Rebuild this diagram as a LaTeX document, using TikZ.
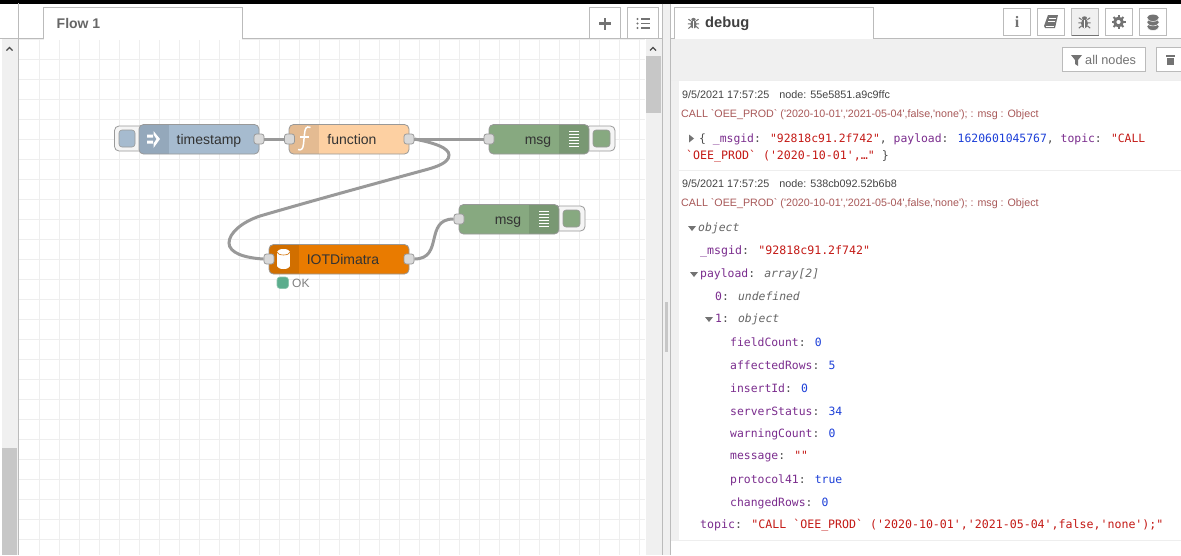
\documentclass[tikz,border=0pt]{standalone}
\usepackage{fontspec}
\setmainfont{Liberation Sans}
\newfontfamily\callfont{Liberation Sans}
\newfontfamily\serifbold{Liberation Serif}
\newfontfamily\codefont{DejaVu Sans Mono}
\usetikzlibrary{calc}
\definecolor{gridc}{HTML}{EEEEEE}
\definecolor{linec}{HTML}{BBBBBB}
\definecolor{panelc}{HTML}{F0F0F0}
\definecolor{wirec}{HTML}{999999}
\definecolor{portc}{HTML}{D9D9D9}
\definecolor{nodeedge}{HTML}{999999}
\definecolor{tsc}{HTML}{A6BBCF}
\definecolor{tsd}{HTML}{94A8BB}
\definecolor{fnc}{HTML}{FDD0A2}
\definecolor{fnd}{HTML}{E4BB92}
\definecolor{msgc}{HTML}{87A980}
\definecolor{msgd}{HTML}{799873}
\definecolor{dbc}{HTML}{E97B00}
\definecolor{dbd}{HTML}{D16F00}
\definecolor{okc}{HTML}{5BAD8D}
\definecolor{keyc}{HTML}{7B2D8E}
\definecolor{strc}{HTML}{C41A16}
\definecolor{numc}{HTML}{1C3FD8}
\definecolor{metac}{HTML}{444444}
\definecolor{namec}{HTML}{A85858}
\definecolor{ital}{HTML}{666666}
\tikzset{
 x=1pt,y=-1pt,
 flowbox/.style={draw=nodeedge,line width=.8pt,rounded corners=4.5pt},
 portbox/.style={draw=nodeedge,fill=portc,line width=.8pt,rounded corners=2.5pt,minimum width=10pt,minimum height=10pt,inner sep=0pt},
 wire/.style={draw=wirec,line width=3pt},
 btn/.style={draw=linec,fill=white,line width=.8pt},
 lbl/.style={font=\fontsize{14}{16}\selectfont,text=black!80,inner sep=0pt,anchor=base},
 meta/.style={font=\fontsize{10.8}{12}\selectfont,text=metac,anchor=west,inner sep=0pt},
 call/.style={font=\callfont\fontsize{10.7}{12}\selectfont,text=namec,anchor=west,inner sep=0pt},
 code/.style={font=\codefont\fontsize{11.4}{14}\selectfont,anchor=west,inner sep=0pt,text=keyc},
 codewide/.style={font=\codefont\fontsize{11.6}{14}\selectfont,anchor=west,inner sep=0pt,text=keyc},
 tri/.style={fill=black!55,draw=none},
 bugicon/.pic={
   \fill[black!55] (0,1.5) ellipse (3.6 and 5.2);
   \fill[black!55] (0,-4.2) ellipse (2.6 and 1.8);
   \draw[black!55,line width=1pt] (-3,-2.5) -- (-6,-4.5) (3,-2.5) -- (6,-4.5) (-3,1) -- (-6.5,1) (3,1) -- (6.5,1) (-3,4) -- (-6,6.5) (3,4) -- (6,6.5);
   \draw[white,line width=.5pt] (0,-2.4) -- (0,6.5);
 },
}
\newcommand{\kyy}[1]{\textcolor{keyc}{#1}}
\newcommand{\strr}[1]{\textcolor{strc}{#1}}
\newcommand{\numm}[1]{\textcolor{numc}{#1}}
\newcommand{\itl}[1]{\textcolor{ital}{\textit{#1}}}
\newcommand{\plainn}[1]{\textcolor{black!70}{#1}}
\begin{document}
\begin{tikzpicture}
\useasboundingbox (0,0) rectangle (1181,555);
\fill[white] (0,0) rectangle (1181,555);
% grid
\begin{scope}
\clip (19,39) rectangle (645,555);
\foreach \g in {39.5,59.5,...,559.5} \draw[gridc,line width=1pt] (19,\g) -- (645,\g);
\foreach \g in {39.5,59.5,...,659.5} \draw[gridc,line width=1pt] (\g,39) -- (\g,555);
\end{scope}
% top bar
\fill[black] (0,0) rectangle (1181,3.5);
% left scrollbar
\fill[panelc] (2,39) rectangle (18,555);
\fill[black!22] (2,448) rectangle (17,555);
\draw[black!70,line width=1.2pt] (6.5,50.5) -- (9.5,47.5) -- (12.5,50.5);
\draw[linec,line width=.8pt] (18.5,3) -- (18.5,555);
% tab row
\draw[linec,line width=.8pt] (0,38.5) -- (43.5,38.5) -- (43.5,7.5) -- (242.5,7.5) -- (242.5,38.5) -- (662,38.5);
\fill[white] (44,34) rectangle (242,39.5);
\node[inner sep=0pt,anchor=west,font=\bfseries\fontsize{14}{16}\selectfont,text=black!60] (flowtab) at (56.5,23) {Flow 1};
\draw[btn] (589.5,7.5) rectangle (620.5,38.5);
\draw[btn] (627.5,7.5) rectangle (658.5,38.5);
\draw[black!55,line width=2.6pt] (599,23.5) -- (611,23.5) (605,18) -- (605,29.5);
\draw[black!55,line width=1.9pt] (641,19) -- (650,19) (641,23.5) -- (650,23.5) (641,28) -- (650,28);
\fill[black!55] (637.5,19) circle (1.2) (637.5,23.5) circle (1.2) (637.5,28) circle (1.2);
% right scrollbar of workspace
\fill[panelc] (646,39) rectangle (670,555);
\fill[black!22] (646,56) rectangle (661,113);
\draw[black!70,line width=1.2pt] (650,50.5) -- (653,47.5) -- (656,50.5);
% splitter
\fill[panelc] (662,3.5) rectangle (670,555);
\draw[linec,line width=.8pt] (662.5,3.5) -- (662.5,555);
\draw[linec,line width=.8pt] (670.5,3.5) -- (670.5,555);
\fill[black!22] (665,302) rectangle (668,352);
% debug tabs
\fill[panelc] (671,39) rectangle (1181,81);
\fill[panelc] (671,81) rectangle (679,540);
\draw[linec,line width=.8pt] (671,38.5) -- (674.5,38.5) -- (674.5,7.5) -- (873.5,7.5) -- (873.5,38.5) -- (1181,38.5);
\draw[gridc,line width=.8pt] (671,80.5) -- (1181,80.5);
\draw[gridc,line width=.8pt] (679,170.5) -- (1181,170.5);
\draw[gridc,line width=.8pt] (671,540.5) -- (1181,540.5);
\pic[scale=.85] at (693.5,23) {bugicon};
\node[inner sep=0pt,anchor=west,font=\bfseries\fontsize{14.7}{16}\selectfont,text=black!75] (debugtab) at (705,24) {debug};
\draw[btn] (1003.5,8.5) rectangle (1030.5,35.5);
\draw[btn] (1037.5,8.5) rectangle (1064.5,35.5);
\draw[btn,fill=panelc] (1071.5,8.5) rectangle (1098.5,35.5);
\draw[black!55,line width=.9pt] (1071.5,35.5) -- (1098.5,35.5);
\draw[btn] (1105.5,8.5) rectangle (1132.5,35.5);
\draw[btn] (1139.5,8.5) rectangle (1166.5,35.5);
\node[inner sep=0pt,font=\serifbold\bfseries\fontsize{16}{18}\selectfont,text=black!55] (iicon) at (1017,21.5) {i};
\fill[black!55] (1048,15) -- (1058,15) -- (1055,28) -- (1045,28) -- (1044,26) -- cycle;
\draw[white,line width=.5pt] (1049,18) -- (1055.5,18) (1048.2,21) -- (1054.7,21) (1045.5,26) -- (1054,26);
\pic[scale=.95] at (1084.5,22) {bugicon};
\fill[black!55,even odd rule] (1118.5,22) circle (5.4) (1118.5,22) circle (2.2);
\foreach \a in {0,45,...,315} \draw[black!55,line width=2pt] ($(1118.5,22)+(\a:4.5)$) -- ($(1118.5,22)+(\a:7)$);
\foreach \yy in {27,22.5,18} {\fill[black!55] (1153,\yy) ellipse (6 and 3.4); \draw[white,line width=.5pt] (1147,\yy) arc[start angle=180,end angle=360,x radius=6,y radius=-3.4];}
\draw[btn] (1062.5,47.5) rectangle (1145.5,71.5);
\draw[btn] (1156.5,47.5) rectangle (1190,71.5);
\fill[black!55] (1071,55) -- (1082,55) -- (1078,60) -- (1078,66) -- (1075,64) -- (1075,60) -- cycle;
\node[inner sep=0pt,anchor=west,font=\fontsize{12.7}{14}\selectfont,text=black!55] (allnodes) at (1085,59.5) {all nodes};
\fill[black!55] (1166,55) rectangle (1175,56.5);
\fill[black!55] (1167,57.5) rectangle (1174,65);
% debug text
\node[meta] (m1) at (682,94.5) {9/5/2021 17:57:25\hspace{10pt}node: 55e5851.a9c9ffc};
\node[call] (c1) at (681,115) {CALL `OEE\_PROD` ('2020-10-01','2021-05-04',false,'none'); : msg : Object};
\fill[tri] (689,134.5) -- (694,138.5) -- (689,142.5) -- cycle;
\node[code] (t1) at (699,139) {\plainn{\{} \kyy{\_msgid}\plainn{:} \strr{"92818c91.2f742"}\plainn{,} \kyy{payload}\plainn{:} \numm{1620601045767}\plainn{,} \kyy{topic}\plainn{:} \strr{"CALL}};
\node[codewide] (t2) at (686,156) {\strr{`OEE\_PROD` ('2020-10-01',…"} \plainn{\}}};
\node[meta] (m2) at (682,183.5) {9/5/2021 17:57:25\hspace{10pt}node: 538cb092.52b6b8};
\node[call] (c2) at (681,204) {CALL `OEE\_PROD` ('2020-10-01','2021-05-04',false,'none'); : msg : Object};
\fill[tri] (688,226) -- (696,226) -- (692,231) -- cycle;
\node[code] (t3) at (698,228.5) {\itl{object}};
\node[codewide] (t4) at (700,251) {\kyy{\_msgid}\plainn{:} \strr{"92818c91.2f742"}};
\fill[tri] (690,272) -- (698,272) -- (694,277) -- cycle;
\node[code] (t5) at (700,274) {\kyy{payload}\plainn{:} \itl{array[2]}};
\node[code] (t6) at (715,296) {\kyy{0}\plainn{:} \itl{undefined}};
\fill[tri] (705,317) -- (713,317) -- (709,322) -- cycle;
\node[code] (t7) at (715,319) {\kyy{1}\plainn{:} \itl{object}};
\node[code] (k1) at (730,342) {\kyy{fieldCount}\plainn{:} \numm{0}};
\node[code] (k2) at (730,365) {\kyy{affectedRows}\plainn{:} \numm{5}};
\node[code] (k3) at (730,388) {\kyy{insertId}\plainn{:} \numm{0}};
\node[code] (k4) at (730,411) {\kyy{serverStatus}\plainn{:} \numm{34}};
\node[code] (k5) at (730,434) {\kyy{warningCount}\plainn{:} \numm{0}};
\node[code] (k6) at (730,457) {\kyy{message}\plainn{:} \strr{""}};
\node[code] (k7) at (730,480) {\kyy{protocol41}\plainn{:} \numm{true}};
\node[code] (k8) at (730,503) {\kyy{changedRows}\plainn{:} \numm{0}};
\node[codewide] (k9) at (700,525.5) {\kyy{topic}\plainn{:} \strr{"CALL `OEE\_PROD` ('2020-10-01','2021-05-04',false,'none');"}};
% button tabs of nodes
\draw[flowbox,fill=gridc!60] (114.5,126) rectangle (146,151);
\fill[tsc,draw=nodeedge,line width=.6pt,rounded corners=3pt] (119,130) rectangle (135,147);
\draw[flowbox,fill=gridc!60] (585,126) rectangle (615,151);
\fill[msgc,draw=nodeedge,line width=.6pt,rounded corners=3pt] (593,130) rectangle (610,147);
\draw[flowbox,fill=gridc!60] (555,206) rectangle (585,231);
\fill[msgc,draw=nodeedge,line width=.6pt,rounded corners=3pt] (563,210) rectangle (580,227);
% timestamp
\begin{scope}
\fill[tsc,rounded corners=4.5pt] (139,124.5) rectangle (259,154);
\clip[rounded corners=4.5pt] (139,124.5) rectangle (259,154);
\fill[tsd] (139,124.5) rectangle (169,154);
\end{scope}
\draw[flowbox] (139,124.5) rectangle (259,154);
\fill[white] (147,134.5) rectangle (153,137.5) (147,140.5) rectangle (153,143.5);
\fill[white] (153.5,131) -- (160,139) -- (153.5,148) -- (153.5,143.5) -- (156.5,139) -- (153.5,134.5) -- cycle;
\node[lbl] (tsl) at (209,144) {timestamp};
% function
\begin{scope}
\fill[fnc,rounded corners=4.5pt] (289,124.5) rectangle (409,154);
\clip[rounded corners=4.5pt] (289,124.5) rectangle (409,154);
\fill[fnd] (289,124.5) rectangle (319,154);
\end{scope}
\draw[flowbox] (289,124.5) rectangle (409,154);
\draw[white,line width=1.5pt] (310.5,127.5) .. controls (306,125.5) and (305,129) .. (304.5,134) -- (303.5,144) .. controls (303,149.5) and (301,150.5) .. (298,149.5);
\draw[white,line width=1.2pt] (300,137) -- (308.5,137);
\node[lbl] (fnl) at (352,144) {function};
% msg 1
\begin{scope}
\fill[msgc,rounded corners=4.5pt] (489,124.5) rectangle (589,154);
\clip[rounded corners=4.5pt] (489,124.5) rectangle (589,154);
\fill[msgd] (559,124.5) rectangle (589,154);
\end{scope}
\draw[flowbox] (489,124.5) rectangle (589,154);
\foreach \yy in {131,134,137,140,143,146} \fill[white] (569,\yy) rectangle (579,\yy+1.1);
\node[lbl] (m1l) at (538,144) {msg};
% msg 2
\begin{scope}
\fill[msgc,rounded corners=4.5pt] (459,204.5) rectangle (559,234);
\clip[rounded corners=4.5pt] (459,204.5) rectangle (559,234);
\fill[msgd] (529,204.5) rectangle (559,234);
\end{scope}
\draw[flowbox] (459,204.5) rectangle (559,234);
\foreach \yy in {211,214,217,220,223,226} \fill[white] (539,\yy) rectangle (549,\yy+1.1);
\node[lbl] (m2l) at (508,224) {msg};
% db
\begin{scope}
\fill[dbc,rounded corners=4.5pt] (269,244.5) rectangle (409,274);
\clip[rounded corners=4.5pt] (269,244.5) rectangle (409,274);
\fill[dbd] (269,244.5) rectangle (299,274);
\end{scope}
\draw[flowbox] (269,244.5) rectangle (409,274);
\fill[white] (277,252) rectangle (290,266);
\fill[white] (283.5,252) ellipse (6.5 and 3);
\fill[white] (283.5,266) ellipse (6.5 and 3);
\draw[dbd,line width=.6pt] (277,252) arc[start angle=180,end angle=360,x radius=6.5,y radius=-3];
\node[lbl] (dbl) at (343,264) {IOTDimatra};
\fill[okc,draw=okc!70,line width=.6pt,rounded corners=3pt] (277,277) rectangle (288.5,288.5);
\node[inner sep=0pt,anchor=west,font=\fontsize{12}{14}\selectfont,text=black!50] (oklbl) at (292,283) {OK};
% ports
\node[portbox] (p1) at (259,139) {};
\node[portbox] (p2) at (289.5,139) {};
\node[portbox] (p3) at (409,139) {};
\node[portbox] (p4) at (489,139) {};
\node[portbox] (p5) at (269,259) {};
\node[portbox] (p6) at (409,259) {};
\node[portbox] (p7) at (459,219) {};
% wires run from port to port
\draw[wire] (p1) -- (p2);
\draw[wire] (p3) -- (p4);
\draw[wire] (p3.east) .. controls (435,143) and (449,148) .. (449,155) .. controls (449,163) and (436,167) .. (425,170) .. controls (370,185) and (315,200) .. (260,216) .. controls (242,222) and (229,233) .. (229,243) .. controls (229,253) and (245,258) .. (p5.west);
\draw[wire] (p6.east) .. controls (444,259) and (424,219) .. (p7.west);
\end{tikzpicture}
\end{document}
